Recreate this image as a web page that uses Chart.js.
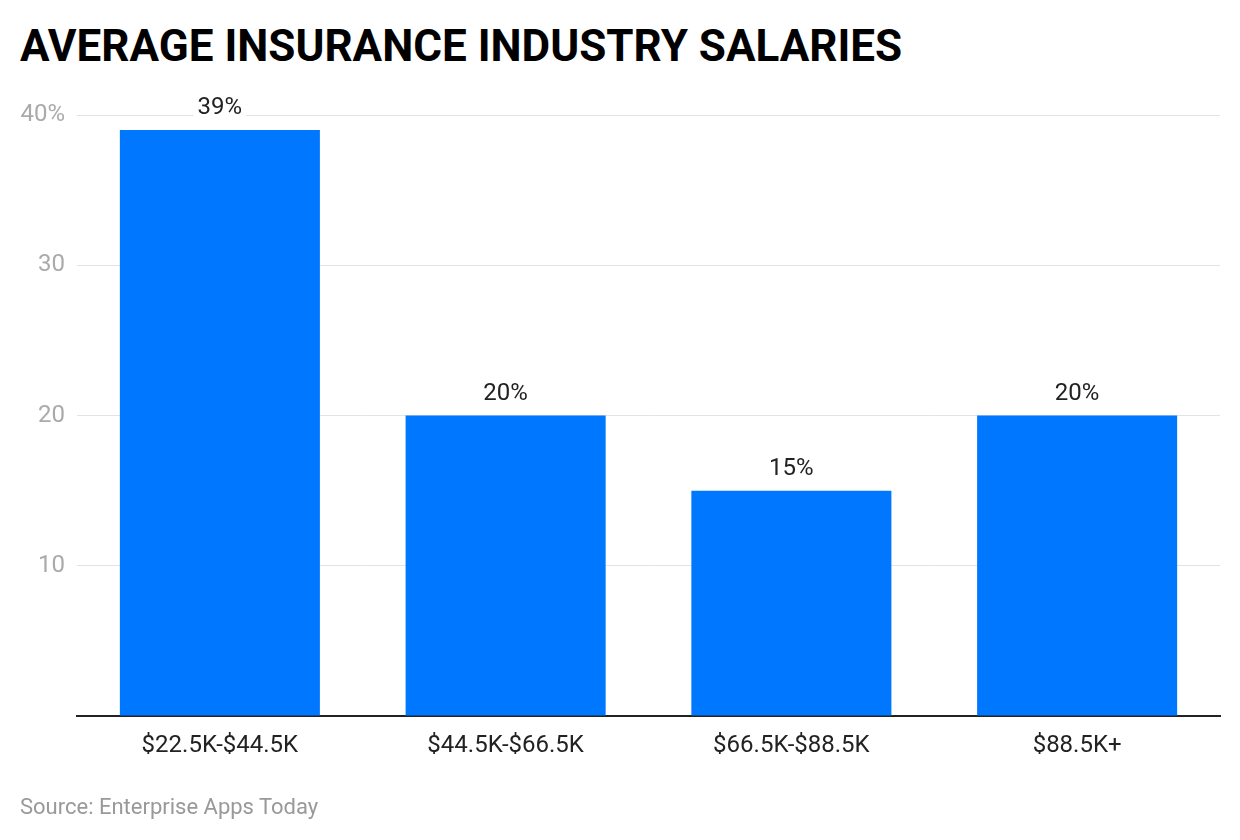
<!DOCTYPE html>
<html>
<head>
<meta charset="utf-8">
<script src="https://cdn.jsdelivr.net/npm/chart.js@4"></script>
<style>
  body { margin: 0; background: #fff; font-family: Roboto, sans-serif; }
  #wrap { position: relative; width: 1240px; height: 840px; }
  #title { position: absolute; left: 20px; top: 20px; font-size: 44px; font-weight: 700; color: #000; }
  #source { position: absolute; left: 20px; top: 794px; font-size: 22px; color: #999; }
  canvas { position: absolute; left: 0; top: 0; }
</style>
</head>
<body>
<div id="wrap">
  <div id="title">AVERAGE INSURANCE INDUSTRY SALARIES</div>
  <canvas id="salaryChart" width="1240" height="840"></canvas>
  <div id="source">Source: Enterprise Apps Today</div>
</div>
<script>
// Faixas salariais e percentuais
const categories = ['$22.5K-$44.5K', '$44.5K-$66.5K', '$66.5K-$88.5K', '$88.5K+'];
const shares = [39, 20, 15, 20];
const yTicks = [0, 10, 20, 30, 40];

// Rótulos acima das barras, com fundo branco
const barLabels = {
    id: 'barLabels',
    afterDatasetsDraw(chart) {
        const ctx = chart.ctx;
        const meta = chart.getDatasetMeta(0);
        ctx.save();
        ctx.font = "24px Roboto, sans-serif";
        ctx.textAlign = 'center';
        ctx.textBaseline = 'middle';
        meta.data.forEach(function(bar, i) {
            const txt = shares[i] + '%';
            const w = ctx.measureText(txt).width;
            const y = bar.y - 22;
            ctx.fillStyle = '#fff';
            ctx.fillRect(bar.x - w / 2 - 4, y - 12, w + 8, 24);
            ctx.fillStyle = '#222';
            ctx.fillText(txt, bar.x, y);
        });
        ctx.restore();
    }
};

new Chart(document.getElementById('salaryChart').getContext('2d'), {
    type: 'bar',
    data: {
        labels: categories,
        datasets: [{
            data: shares,
            backgroundColor: '#0077ff',
            categoryPercentage: 0.7,
            barPercentage: 1.0
        }]
    },
    options: {
        responsive: false,
        animation: false,
        devicePixelRatio: 1,
        layout: { padding: { top: 115, right: 20, left: 0, bottom: 0 } },
        plugins: {
            legend: { display: false },
            tooltip: { enabled: false }
        },
        scales: {
            x: {
                grid: { display: false },
                border: { color: '#222', width: 2 },
                ticks: {
                    color: '#222',
                    font: { family: 'Roboto', size: 24 },
                    padding: 8
                },
                afterFit: function(scale) { scale.height = 124; }
            },
            y: {
                min: 0,
                max: 40,
                afterBuildTicks: function(scale) {
                    scale.ticks = yTicks.map(function(v) { return { value: v }; });
                },
                grid: {
                    color: '#e3e3e3',
                    lineWidth: 1,
                    drawTicks: false
                },
                border: { display: false },
                ticks: {
                    color: '#aaa',
                    font: { family: 'Roboto', size: 24 },
                    padding: 12,
                    callback: function(value) {
                        if (value === 0) return '';
                        return value === 40 ? value + '%' : value;
                    }
                },
                afterFit: function(scale) { scale.width = 77; }
            }
        }
    },
    plugins: [barLabels]
});
</script>
</body>
</html>
